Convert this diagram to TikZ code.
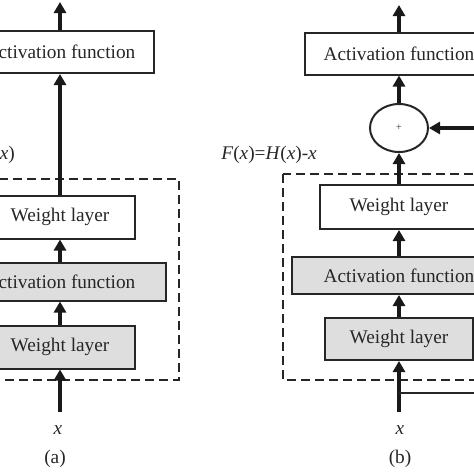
\documentclass[tikz,border=0pt]{standalone}
\usepackage{fontspec}
\setmainfont{Liberation Serif}
\usepackage{tikz}
\usetikzlibrary{arrows.meta,shapes.geometric,positioning}
\tikzset{
    layer/.style={
                draw=black!85,
                line width=2pt,
                text=black!85,
                inner sep=0pt,
                font=\fontsize{19.3}{23}\selectfont
            },
        toplayer/.style={
                layer,
                minimum width=188pt,
                minimum height=42pt
            },
        weight/.style={
                layer,
                minimum width=150pt,
                minimum height=43pt
            },
        activ/.style={
                layer,
                minimum width=212pt,
                minimum height=38pt
            },
        shaded/.style={fill=black!13},
        sumnode/.style={
                layer,
                ellipse,
                minimum width=58pt,
                minimum height=48pt,
                font=\fontsize{10}{12}\selectfont
            },
        label/.style={
                text=black!85,
                inner sep=0pt,
                font=\fontsize{19.3}{23}\selectfont
            },
        flow/.style={
                draw=black!90,
                line width=4.5pt,
                -{Triangle[width=12pt,length=11pt]}
            },
        block/.style={
                draw=black!85,
                line width=2pt,
                dash pattern=on 9pt off 5pt
            },
}

\begin{document}
\begin{tikzpicture}[x=1pt,y=-1pt]
\useasboundingbox (0,0) rectangle (474,474);
\clip (0,0) rectangle (474,474);
% (a) Plain layers
\node[toplayer] (topa) at (60,52) {Activation function};
\node[weight] (wla) at (60,217) {Weight layer};
\node[activ,shaded] (afa) at (60,281.5) {Activation function};
\node[weight,shaded] (wlb) at (60,347) {Weight layer};
\coordinate (outa) at (60,2);
\coordinate (ina) at (60,412);
\draw[block] (-60,179) rectangle (179,380);
\node[label,anchor=east] (ha) at (15,155) {\textit{H}(\textit{x})};
\node[label] (xa) at (58,430) {\textit{x}};
\node[label] (capa) at (55,459) {(a)};
\draw[flow] (topa) -- (outa);
\draw[flow] (wla) -- (topa);
\draw[flow] (afa) -- (wla);
\draw[flow] (wlb) -- (afa);
\draw[flow] (ina) -- (wlb);
% (b) Residual block
\node[toplayer] (topb) at (399,53.5) {Activation function};
\node[sumnode] (sum) at (399,128) {+};
\node[weight,minimum width=158pt,minimum height=44pt] (wlc) at (399,207) {Weight layer};
\node[activ,shaded,minimum width=214pt,minimum height=37pt] (afb) at (399,275.5) {Activation function};
\node[weight,shaded,minimum width=148pt,minimum height=42pt] (wld) at (399,339) {Weight layer};
\coordinate (outb) at (399,5);
\coordinate (inb) at (399,412);
\coordinate (skipa) at (399,393);
\coordinate (skipb) at (500,393);
\coordinate (skipc) at (500,128);
\draw[block] (283,174) rectangle (515,380);
\node[label,anchor=east] (fb) at (317,155) {\textit{F}(\textit{x})=\textit{H}(\textit{x})-\textit{x}};
\node[label] (xb) at (400,430) {\textit{x}};
\node[label] (capb) at (400,459) {(b)};
\draw[flow] (topb) -- (outb);
\draw[flow] (sum) -- (topb);
\draw[flow] (wlc) -- (sum);
\draw[flow] (afb) -- (wlc);
\draw[flow] (wld) -- (afb);
\draw[flow] (inb) -- (wld);
\draw[draw=black!85,line width=2pt] (skipa) -- (skipb) -- (skipc);
\draw[flow] (skipc) -- (sum);
\end{tikzpicture}
\end{document}
